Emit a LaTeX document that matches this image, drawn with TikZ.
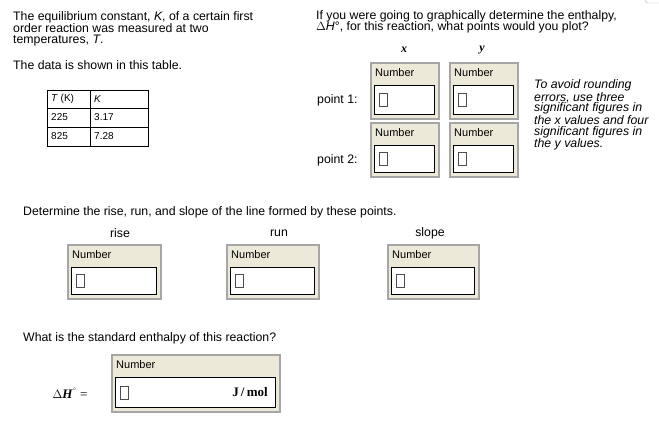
\documentclass[tikz,border=0pt]{standalone}
\usepackage{fontspec}
\setmainfont{Liberation Sans}
\newfontfamily\serifx{Liberation Serif}
\begin{document}
\begin{tikzpicture}[x=1pt,y=-1pt,
  txt/.style={anchor=west,inner sep=0,font=\fontsize{12.3}{11.5}\selectfont,align=left},
  sm/.style={anchor=west,inner sep=0,font=\fontsize{11}{11}\selectfont},
  tb/.style={anchor=west,inner sep=0,font=\fontsize{10}{10}\selectfont}]
\useasboundingbox[fill=white] (0,0) rectangle (659,434);
\newcommand\widget[5]{% name, x1,y1,x2,y2
  \node[draw=gray!70,line width=2pt,fill={rgb,255:red,236;green,233;blue,216},minimum width=#4-#2,minimum height=#5-#3,anchor=north west,inner sep=0] (#1) at (#2,#3) {};
  \node[sm] (#1l) at (#2+5,#3+11) {Number};
  \node[draw=black,fill=white,anchor=north west,minimum width=#4-#2-8,minimum height=#5-#3-27,inner sep=0] (#1i) at (#2+4,#3+23) {};
  \node[draw=black!70,fill=white,anchor=west,minimum width=8,minimum height=13,inner sep=0] at ([xshift=5]#1i.west) {};}
\node[txt] (t1) at (13,29) {The equilibrium constant, \textit{K}, of a certain first\\order reaction was measured at two\\temperatures, \textit{T}.};
\node[txt] (t2) at (13,65) {The data is shown in this table.};
\draw (47,90) rectangle (148,146) (47,108)--(148,108) (47,127)--(148,127) (90,90)--(90,146);
\node[tb] (h1) at (51,99) {\textit{T} (K)};
\node[tb] (h2) at (94,99) {\textit{K}};
\node[tb] (a1) at (51,117.5) {225};
\node[tb] (a2) at (94,117.5) {3.17};
\node[tb] (b1) at (51,136.5) {825};
\node[tb] (b2) at (94,136.5) {7.28};
\node[txt] (t3) at (316,22) {If you were going to graphically determine the enthalpy,\\$\Delta$\textit{H}°, for this reaction, what points would you plot?};
\node[font=\serifx\bfseries\itshape\fontsize{12}{12}\selectfont] (xl) at (404,50) {x};
\node[font=\serifx\bfseries\itshape\fontsize{12}{12}\selectfont] (yl) at (482,50) {y};
\widget{w1}{370}{62}{438}{118}
\widget{w2}{449}{62}{517}{118}
\widget{w3}{370}{122}{438}{176}
\widget{w4}{449}{122}{517}{176}
\node[txt] (p1) at (317,100) {point 1:};
\node[txt] (p2) at (317,160) {point 2:};
\node[txt,font=\fontsize{12.3}{10.8}\selectfont\itshape] (note) at (534,115) {To avoid rounding\\errors, use three\\significant figures in\\the x values and four\\significant figures in\\the y values.};
\node[txt] (t4) at (23,212) {Determine the rise, run, and slope of the line formed by these points.};
\node[font=\fontsize{12.3}{12}\selectfont] (rise) at (120,233) {rise};
\node[font=\fontsize{12.3}{12}\selectfont] (run) at (279,233) {run};
\node[font=\fontsize{12.3}{12}\selectfont] (slope) at (430,233) {slope};
\widget{r}{67}{244}{160}{298}
\widget{u}{226}{244}{318}{298}
\widget{s}{387}{244}{478}{298}
\node[txt] (t5) at (23,338) {What is the standard enthalpy of this reaction?};
\widget{h}{111}{354}{279}{411}
\node[font=\serifx\bfseries\fontsize{13}{13}\selectfont] (jm) at (250,392) {J\,/\,mol};
\node[font=\serifx\bfseries\fontsize{13}{13}\selectfont] (dh) at (70,393) {$\Delta$\textit{H}\raisebox{6pt}{\tiny$^\circ$}\ \mdseries=};
\draw[gray!60,rounded corners=3] (645,-2) -- (645,3) -- (660,3);
\end{tikzpicture}
\end{document}
